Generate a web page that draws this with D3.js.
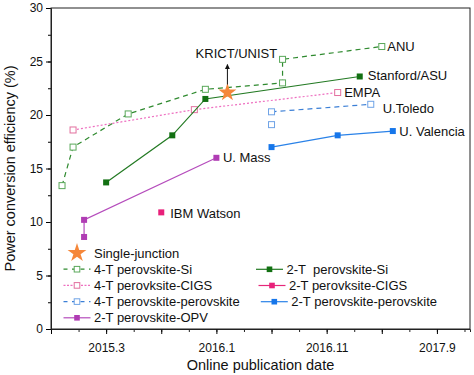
<!DOCTYPE html>
<html>
<head>
<meta charset="utf-8">
<script src="https://cdn.jsdelivr.net/npm/d3@7"></script>
<style>
  body { margin: 0; background: #fff; }
  text { font-family: "Liberation Sans", Arial, sans-serif; fill: #111; white-space: pre; }
</style>
</head>
<body>
<script>
// Data: [publication date (year.month), efficiency %]
const singleJunction = [["2016.2", 22.1]];
const fourTSi = [["2014.11", 13.4], ["2014.12", 17.0], ["2015.5", 20.1], ["2015.12", 22.4], ["2016.7", 23.0], ["2016.7", 25.2], ["2017.4", 26.4]];
const twoTSi = [["2015.3", 13.7], ["2015.9", 18.1], ["2015.12", 21.5], ["2017.2", 23.6]];
const fourTCigs = [["2014.12", 18.6], ["2015.11", 20.5], ["2016.12", 22.1]];
const twoTCigs = [["2015.8", 10.9]];
const fourTPerov = [["2016.6", 19.1], ["2016.6", 20.3], ["2017.3", 21.0]];
const twoTPerov = [["2016.6", 17.0], ["2016.12", 18.1], ["2017.5", 18.5]];
const twoTOpv = [["2015.1", 8.6], ["2015.1", 10.2], ["2016.1", 16.0]];

const xTickLabels = ["2015.3", "2016.1", "2016.11", "2017.9"];
const yTicks = [0, 5, 10, 15, 20, 25, 30];

// convert "year.month" to months since 2015.0
function toMonth(s) {
    const [y, m] = s.split(".").map(Number);
    return (y - 2015) * 12 + m;
}

const width = 474, height = 375;
const margin = {top: 8, right: 4, bottom: 46, left: 51};

const svg = d3.select("body").append("svg")
    .attr("width", width)
    .attr("height", height);

const x = d3.scaleLinear().domain([-2, 36]).range([margin.left, width - margin.right]);
const y = d3.scaleLinear().domain([0, 30]).range([height - margin.bottom, margin.top]);

// Axes
const minorX = d3.range(-2, 36.1, 2.5);
const labelX = xTickLabels.map(toMonth);

const xAxis = svg.append("g").attr("transform", `translate(0,${y(0)})`);
xAxis.call(d3.axisBottom(x).tickValues(minorX).tickSize(3).tickFormat(""));
xAxis.call(g => g.selectAll(".tick line").attr("stroke", "#222"));
const xMajor = svg.append("g").attr("transform", `translate(0,${y(0)})`)
    .call(d3.axisBottom(x).tickValues(d3.range(3, 36, 5).concat([-2])).tickSize(5)
        .tickFormat(d => labelX.includes(d) ? xTickLabels[labelX.indexOf(d)] : ""));
xMajor.select(".domain").remove();
xMajor.selectAll("text").attr("font-size", 12).attr("dy", "1.25em");

const yAxis = svg.append("g").attr("transform", `translate(${x(-2)},0)`)
    .call(d3.axisLeft(y).tickValues(d3.range(0, 30.1, 2.5)).tickSize(3).tickFormat(""));
const yMajor = svg.append("g").attr("transform", `translate(${x(-2)},0)`)
    .call(d3.axisLeft(y).tickValues(yTicks).tickSize(5).tickPadding(3));
yMajor.select(".domain").remove();
yMajor.selectAll("text").attr("font-size", 12);

svg.selectAll(".domain").attr("stroke", "#222");

// frame
svg.append("rect")
    .attr("x", x(-2)).attr("y", y(30))
    .attr("width", x(36) - x(-2)).attr("height", y(0) - y(30))
    .attr("fill", "none").attr("stroke", "#222");

// Axis titles
svg.append("text")
    .attr("x", (x(-2) + x(36)) / 2).attr("y", 370)
    .attr("text-anchor", "middle").attr("font-size", 14.5)
    .text("Online publication date");
svg.append("text")
    .attr("transform", `translate(15,${(y(0) + y(30)) / 2}) rotate(-90)`)
    .attr("text-anchor", "middle").attr("font-size", 14.5)
    .text("Power conversion efficiency (%)");

const line = d3.line().x(d => x(toMonth(d[0]))).y(d => y(d[1]));

const series = [
    {data: fourTSi, color: "#2f8a2f", mark: "#5aa85a", dash: "5,4", open: true, lineFrom: 0},
    {data: fourTCigs, color: "#ee6fc0", mark: "#e2709e", dash: "2,2", open: true, lineFrom: 0},
    {data: fourTPerov, color: "#3b7fd6", mark: "#6fa3e6", dash: "5,4", open: true, lineFrom: 1},
    {data: twoTSi, color: "#237a23", mark: "#127012", dash: null, open: false, lineFrom: 0},
    {data: twoTPerov, color: "#2a82e8", mark: "#1676ea", dash: null, open: false, lineFrom: 0},
    {data: twoTOpv, color: "#b54cbc", mark: "#b03cb4", dash: null, open: false, lineFrom: 0},
    {data: twoTCigs, color: "#e6287a", mark: "#e8207a", dash: null, open: false, lineFrom: 0}
];

series.forEach(s => {
    if (s.data.length > 1) {
        svg.append("path")
            .datum(s.data.slice(s.lineFrom))
            .attr("d", line)
            .attr("fill", "none")
            .attr("stroke", s.color)
            .attr("stroke-width", 1.2)
            .attr("stroke-dasharray", s.dash);
    }
    svg.selectAll(null).data(s.data).join("rect")
        .attr("x", d => x(toMonth(d[0])) - 3)
        .attr("y", d => y(d[1]) - 3)
        .attr("width", 6).attr("height", 6)
        .attr("fill", s.open ? "#fff" : s.mark)
        .attr("stroke", s.mark)
        .attr("stroke-width", s.open ? 1 : 0);
});

// star
const star = d3.symbol().type(d3.symbolStar).size(100);
svg.selectAll(null).data(singleJunction).join("path")
    .attr("d", star)
    .attr("transform", d => `translate(${x(toMonth(d[0]))},${y(d[1])})`)
    .attr("fill", "#f5873a");

// annotation arrow
const sj = singleJunction[0];
const sx = x(toMonth(sj[0])), sy = y(sj[1]);
svg.append("defs").append("marker")
    .attr("id", "arrow").attr("viewBox", "0 0 10 10")
    .attr("refX", 9).attr("refY", 5)
    .attr("markerWidth", 5).attr("markerHeight", 6).attr("orient", "auto")
    .append("path").attr("d", "M0,0L10,5L0,10Z").attr("fill", "#111");
svg.append("line")
    .attr("x1", sx).attr("y1", sy - 8)
    .attr("x2", sx).attr("y2", sy - 28)
    .attr("stroke", "#111").attr("stroke-width", 1)
    .attr("marker-end", "url(#arrow)");

// point labels
const labels = [
    {text: "KRICT/UNIST", at: sj, dx: 9, dy: -39, anchor: "middle"},
    {text: "ANU", at: fourTSi[6], dx: 5.5, dy: 0},
    {text: "Stanford/ASU", at: twoTSi[3], dx: 8, dy: -1},
    {text: "EMPA", at: fourTCigs[2], dx: 6.5, dy: 0},
    {text: "U.Toledo", at: fourTPerov[2], dx: 12, dy: 4.5},
    {text: "U. Valencia", at: twoTPerov[2], dx: 6.5, dy: 0},
    {text: "U. Mass", at: twoTOpv[2], dx: 6.5, dy: 0},
    {text: "IBM Watson", at: twoTCigs[0], dx: 9, dy: 1.5}
];
svg.selectAll(null).data(labels).join("text")
    .attr("x", d => x(toMonth(d.at[0])) + d.dx)
    .attr("y", d => y(d.at[1]) + d.dy + 4.6)
    .attr("text-anchor", d => d.anchor || "start")
    .attr("font-size", 13)
    .text(d => d.text);

// Legend
const legendLeft = [
    {name: "Single-junction", s: null},
    {name: "4-T perovskite-Si", s: series[0]},
    {name: "4-T perovksite-CIGS", s: series[1]},
    {name: "4-T perovskite-perovskite", s: series[2]},
    {name: "2-T perovskite-OPV", s: series[5]}
];
const legendRight = [
    {name: "2-T  perovskite-Si", s: series[3], ox: 0},
    {name: "2-T perovksite-CIGS", s: series[6], ox: 2.5},
    {name: "2-T perovskite-perovskite", s: series[4], ox: 4.8}
];

function legendItem(g, item, cx, cy) {
    if (!item.s) {
        g.append("path").attr("d", d3.symbol().type(d3.symbolStar).size(110))
            .attr("transform", `translate(${cx},${cy})`).attr("fill", "#f5873a");
    } else {
        g.append("line")
            .attr("x1", cx - 13.5).attr("x2", cx + 13.5).attr("y1", cy).attr("y2", cy)
            .attr("stroke", item.s.color).attr("stroke-width", 1.2)
            .attr("stroke-dasharray", item.s.dash ? (item.s.dash === "2,2" ? "2,1.5" : "4,4.5") : null);
        g.append("rect")
            .attr("x", cx - 2.8).attr("y", cy - 2.8).attr("width", 5.6).attr("height", 5.6)
            .attr("fill", item.s.open ? "#fff" : item.s.mark)
            .attr("stroke", item.s.mark).attr("stroke-width", item.s.open ? 1 : 0);
    }
    g.append("text").attr("x", cx + 17).attr("y", cy + 4.6)
        .attr("font-size", 13).text(item.name);
}

const legend = svg.append("g");
legendLeft.forEach((item, i) => legendItem(legend, item, 77, 253 + i * 16.2));
legendRight.forEach((item, i) => legendItem(legend, item, 269.5 + item.ox, 269.3 + i * 16.2));
</script>
</body>
</html>
